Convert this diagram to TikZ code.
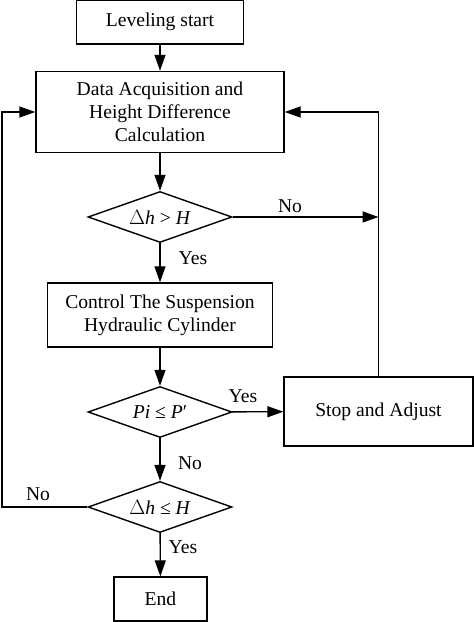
\documentclass[tikz,border=0pt]{standalone}
\usepackage{fontspec}
\setmainfont{Liberation Serif}
\usetikzlibrary{arrows.meta, shapes.geometric}

\begin{document}
\begin{tikzpicture}[x=1pt, y=1pt, line width=1.4pt,
    every node/.style={font=\fontsize{19.6}{23}\selectfont},
    box/.style={draw, rectangle, align=center, inner sep=0pt},
    test/.style={draw, diamond, aspect=2.8, inner sep=0pt,
                 minimum width=144pt, minimum height=51pt},
    arr/.style={-{Triangle[length=16pt,width=11pt]}}]
    \useasboundingbox (0,0) rectangle (474,622);

    \coordinate (S) at (160,600);
    \coordinate (A) at (160,510);
    \coordinate (D1) at (160,405);
    \coordinate (C) at (160,307);
    \coordinate (D2) at (160,210);
    \coordinate (R) at (378.5,210.5);
    \coordinate (D3) at (160,115);
    \coordinate (E) at (160.5,23);
    \coordinate (L) at (2,115);

    \node[box, minimum width=167pt, minimum height=44pt] (start) at (S) {Leveling start};
    \node[box, minimum width=248pt, minimum height=81pt] (data) at (A)
        {Data Acquisition and\\Height Difference\\Calculation};
    \node[test] (dh1) at (D1) {$\Delta$\textit{h} > \textit{H}};
    \node[box, minimum width=225pt, minimum height=64pt] (ctrl) at (C)
        {Control The Suspension\\Hydraulic Cylinder};
    \node[test] (pi) at (D2) {\textit{Pi} ≤ \textit{P}′};
    \node[box, minimum width=189pt, minimum height=69pt] (stop) at (R) {Stop and Adjust};
    \node[test] (dh2) at (D3) {$\Delta$\textit{h} ≤ \textit{H}};
    \node[box, minimum width=93pt, minimum height=44pt] (end) at (E) {End};

    \draw[arr] (start) -- (data);
    \draw[arr] (data) -- (dh1);
    \draw[arr] (dh1) -- (ctrl);
    \draw[arr] (ctrl) -- (pi);
    \draw[arr] (pi) -- (dh2);
    \draw[arr] (dh2) -- (end);
    \draw[arr] (pi) -- (stop);
    \draw[arr] (dh1.east) -- (dh1.east -| stop.north);
    \draw[arr] (stop.north) |- (data.east);
    \draw[arr] (dh2.west) -- (L) |- (data.west);

    \node at (290,416) {No};
    \node at (193,364) {Yes};
    \node at (243,226) {Yes};
    \node at (190,159) {No};
    \node at (38,128) {No};
    \node at (183,75) {Yes};
\end{tikzpicture}
\end{document}
